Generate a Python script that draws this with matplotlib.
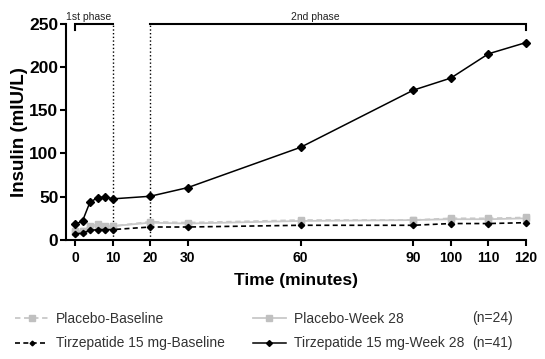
import matplotlib
matplotlib.use("Agg")
import matplotlib.pyplot as plt

plt.rcParams['font.family'] = ['Liberation Sans', 'DejaVu Sans']

time = [0, 2, 4, 6, 8, 10, 20, 30, 60, 90, 100, 110, 120]
placebo_baseline = [10, 10, 16, 18, 16, 16, 21, 20, 23, 23, 25, 25, 26]
placebo_week28 = [9, 10, 15, 17, 15, 16, 20, 19, 22, 23, 24, 24, 25]
tirz_baseline = [7, 8, 11, 12, 12, 12, 15, 15, 17, 17, 19, 19, 20]
tirz_week28 = [18, 22, 44, 48.5, 50, 47.5, 50.5, 60.5, 107, 173, 187, 215, 228]

xticks = [0, 10, 20, 30, 60, 90, 100, 110, 120]
yticks = [0, 50, 100, 150, 200, 250]
labels = ["Placebo-Baseline", "Placebo-Week 28",
          "Tirzepatide 15 mg-Baseline", "Tirzepatide 15 mg-Week 28"]
n_labels = ["(n=24)", "(n=41)"]
phase_labels = ["1st phase", "2nd phase"]

W, H = 545, 359
fig = plt.figure(figsize=(W / 100, H / 100), dpi=100)
ax = fig.add_axes([66 / W, 1 - 240 / H, (526 - 66) / W, (240 - 23.5) / H])

grey = '#c0c0c0'
grey_line = '#c8c8c8'
h1, = ax.plot(time, placebo_baseline, ls=(0, (3, 2)), color=grey_line, lw=1.3,
              marker='s', ms=5, mfc=grey, mec=grey, clip_on=False, zorder=3)
h2, = ax.plot(time, placebo_week28, ls='-', color=grey_line, lw=1.3,
              marker='s', ms=5, mfc=grey, mec=grey, clip_on=False, zorder=3)
h3, = ax.plot(time, tirz_baseline, ls=(0, (3, 2)), color='black', lw=1.2,
              marker='D', ms=3.2, mfc='black', mec='black', clip_on=False, zorder=4)
h4, = ax.plot(time, tirz_week28, ls='-', color='black', lw=1.1,
              marker='D', ms=4, mfc='black', mec='black', clip_on=False, zorder=5)

# phase markers
ax.plot([10, 10], [0, 250], ls=':', color='black', lw=1.0, clip_on=False, zorder=2)
ax.plot([20, 20], [0, 250], ls=':', color='black', lw=1.0, clip_on=False, zorder=2)
ax.plot([0, 0, 10], [242, 250, 250], color='black', lw=1.5, clip_on=False,
        solid_joinstyle='miter')
ax.plot([20, 120, 120], [250, 250, 242], color='black', lw=1.5, clip_on=False,
        solid_joinstyle='miter')
ax.text(3.7, 257.5, phase_labels[0], ha='center', va='center', fontsize=7.5,
        color='#222222')
ax.text(64, 257.5, phase_labels[1], ha='center', va='center', fontsize=7.5,
        color='#222222')

ax.set_xlim(-2.4, 120)
ax.set_ylim(0, 250)
ax.set_xticks(xticks)
ax.set_yticks(yticks)
ax.spines['top'].set_visible(False)
ax.spines['right'].set_visible(False)
for s in ['left', 'bottom']:
    ax.spines[s].set_linewidth(1.5)
ax.tick_params(axis='both', width=1.5, length=4, color='black')
ax.tick_params(axis='y', labelsize=12.5, pad=1.5)
ax.tick_params(axis='x', labelsize=10, pad=4)
for lab in ax.get_yticklabels() + ax.get_xticklabels():
    lab.set_fontweight('bold')
ax.set_ylabel("Insulin (mIU/L)", fontsize=13.5, fontweight='bold', labelpad=1)
ax.set_xlabel("Time (minutes)", fontsize=12.5, fontweight='bold', labelpad=6)

leg = fig.legend([h1, h3, h2, h4], [labels[0], labels[2], labels[1], labels[3]],
                 ncol=2, loc='upper left', bbox_to_anchor=(15 / W, 1 - 312 / H),
                 frameon=False, fontsize=10, handlelength=2.4, handletextpad=0.55,
                 columnspacing=2.0, labelspacing=0.75, borderpad=0, borderaxespad=0,
                 markerscale=0.75)
for t in leg.get_texts():
    t.set_color('#333333')
fig.text(472 / W, 1 - 318 / H, n_labels[0], fontsize=10, va='center', color='#333333')
fig.text(472 / W, 1 - 343 / H, n_labels[1], fontsize=10, va='center', color='#333333')

fig.savefig("out.png", dpi=100)
